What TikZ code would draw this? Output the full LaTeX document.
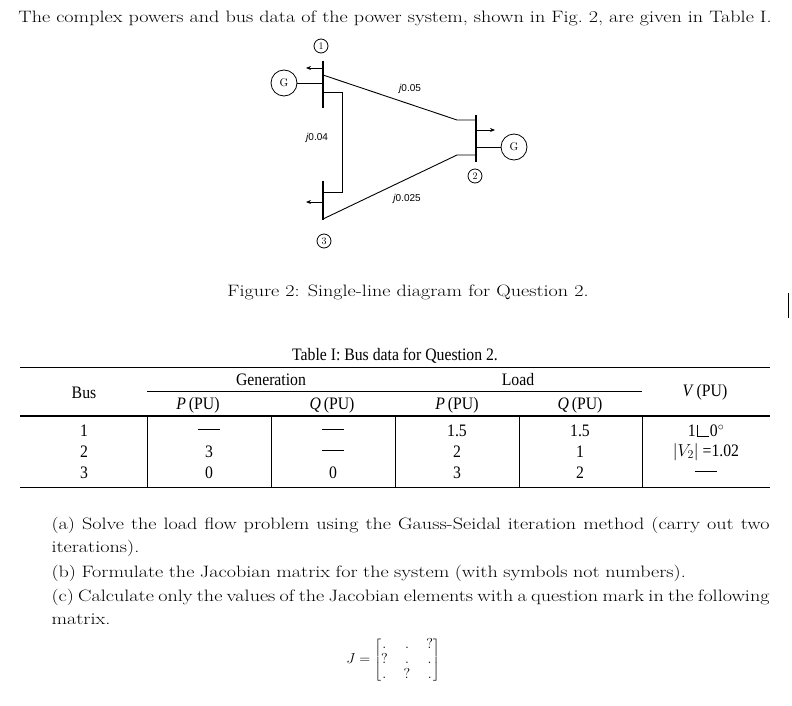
\documentclass[tikz,border=0pt]{standalone}
\usepackage{fontspec}
\setmainfont{Latin Modern Roman}
\newfontfamily\txf[FakeStretch=1.22]{Latin Modern Roman}
\newfontfamily\tabf[FakeStretch=0.9]{Liberation Serif}
\newfontfamily\lblf{Liberation Sans}
\usetikzlibrary{arrows.meta}
\def\myang{\kern1pt\rlap{\rule{0.6pt}{1.5ex}}\rule{0.7em}{0.6pt}\kern1pt}
\def\mydash{\rule[0.3ex]{1.3em}{0.6pt}}
\begin{document}
\begin{tikzpicture}[x=1pt,y=-1pt,
  bus/.style={line width=1.2pt},
  ln/.style={line width=0.9pt},
  arr/.style={line width=0.8pt,-{Stealth[length=5pt,width=4pt]}},
  gen/.style={circle,draw,line width=0.8pt,minimum size=26pt,inner sep=0pt,font=\fontsize{11}{11}\selectfont},
  num/.style={circle,draw,line width=0.8pt,minimum size=14pt,inner sep=0pt,font=\fontsize{10}{10}\selectfont},
  lbl/.style={font=\lblf\fontsize{10}{10}\selectfont},
  tx/.style={font=\txf\fontsize{16.5}{23}\selectfont},
  tb/.style={font=\tabf\fontsize{17.5}{19}\selectfont},
  rule/.style={line width=0.8pt}]
\useasboundingbox (0,0) rectangle (792,706);
\node[tx] (title) at (395,18) {The complex powers and bus data of the power system, shown in Fig.~2, are given in Table~I.};
% buses
\coordinate (b1t) at (323,61); \coordinate (b1b) at (323,108);
\coordinate (b2t) at (476,115); \coordinate (b2b) at (476,162);
\coordinate (b3t) at (323,181); \coordinate (b3b) at (323,220);
\draw[bus] (b1t)--(b1b); \draw[bus] (b2t)--(b2b); \draw[bus] (b3t)--(b3b);
\node[num] (n1) at (321,46) {1};
\node[num] (n2) at (475,176) {2};
\node[num] (n3) at (324,241) {3};
\node[gen] (g1) at (284,83) {G};
\node[gen] (g2) at (514,147) {G};
\coordinate (g1c) at (323,83); \coordinate (g2c) at (476,147);
\draw[ln] (g1)--(g1c); \draw[ln] (g2)--(g2c);
\coordinate (a1s) at (323,68); \coordinate (a1e) at (306,68);
\coordinate (a2s) at (476,130); \coordinate (a2e) at (495,130);
\coordinate (a3s) at (323,202); \coordinate (a3e) at (306,202);
\draw[arr] (a1s)--(a1e); \draw[arr] (a2s)--(a2e); \draw[arr] (a3s)--(a3e);
\coordinate (l12a) at (323,75); \coordinate (l12b) at (457,120); \coordinate (l12c) at (476,120);
\draw[ln] (l12a)--(l12b)--(l12c);
\coordinate (l23a) at (476,155); \coordinate (l23b) at (457,155); \coordinate (l23c) at (323,219);
\draw[ln] (l23a)--(l23b)--(l23c);
\coordinate (l13a) at (323,92); \coordinate (l13b) at (342,92); \coordinate (l13c) at (342,192); \coordinate (l13d) at (323,192);
\draw[ln] (l13a)--(l13b)--(l13c)--(l13d);
\node[lbl] (x12) at (410,89) {\textit{j}0.05};
\node[lbl] (x13) at (317,138) {\textit{j}0.04};
\node[lbl] (x23) at (407,199) {\textit{j}0.025};
\node[tx] (cap) at (408,292) {Figure 2: Single-line diagram for Question 2.};
\coordinate (m1) at (788,293); \coordinate (m2) at (788,318);
\draw[line width=0.8pt] (m1)--(m2);
% table
\node[tb] (tcap) at (395,356) {Table I: Bus data for Question 2.};
\coordinate (r1a) at (20,367); \coordinate (r1b) at (770,367);
\coordinate (r2a) at (147,391); \coordinate (r2b) at (642,391);
\coordinate (r3a) at (20,416); \coordinate (r3b) at (770,416);
\coordinate (r4a) at (20,487); \coordinate (r4b) at (770,487);
\draw[rule] (r1a)--(r1b); \draw[rule] (r2a)--(r2b); \draw[line width=1.4pt] (r3a)--(r3b); \draw[rule] (r4a)--(r4b);
\foreach \x/\n in {147/v1,271/v2,395/v3,519/v4,642/v5}{
  \coordinate (\n t) at (\x,416); \coordinate (\n b) at (\x,487);
  \draw[line width=0.6pt] (\n t)--(\n b);}
\node[tb] (hbus) at (84,393) {Bus};
\node[tb] (hgen) at (271,380) {Generation};
\node[tb] (hload) at (518,380) {Load};
\node[tb] (hv) at (705,392) {\textit{V}\,(PU)};
\node[tb] (hp1) at (198,405) {\textit{P}\,(PU)};
\node[tb] (hq1) at (332,405) {\textit{Q}\,(PU)};
\node[tb] (hp2) at (457,405) {\textit{P}\,(PU)};
\node[tb] (hq2) at (580,405) {\textit{Q}\,(PU)};
\foreach \y/\a/\b/\c/\d/\e/\f/\n in {
  431/1/\mydash/\mydash/1.5/1.5/{1\myang0$^{\circ}$}/ra,
  452/2/3/\mydash/2/1/{$|V_2|$ =1.02}/rb,
  473/3/0/0/3/2/\mydash/rc}{
  \node[tb] (\n1) at (84,\y) {\a};
  \node[tb] (\n2) at (209,\y) {\b};
  \node[tb] (\n3) at (333,\y) {\c};
  \node[tb] (\n4) at (457,\y) {\d};
  \node[tb] (\n5) at (580,\y) {\e};
  \node[tb] (\n6) at (706,\y) {\f};}
% questions
\node[tx,anchor=north west,text width=718pt,align=justify] (qa) at (48,514)
 {\hangindent=32pt\hangafter=1 (a) Solve the load flow problem using the Gauss-Seidal iteration method (carry out two iterations).};
\node[tx,anchor=north west,text width=718pt] (qb) at (48,562) {(b) Formulate the Jacobian matrix for the system (with symbols not numbers).};
\node[tx,anchor=north west,text width=718pt,align=justify] (qc) at (48,586)
 {\hangindent=32pt\hangafter=1 (c) Calculate only the values of the Jacobian elements with a question mark in the following matrix.};
\node[font=\fontsize{15}{15}\selectfont,inner sep=0pt] (jac) at (393,660) {$J=\left[\begin{array}{@{}c@{\hspace{16pt}}c@{\hspace{16pt}}c@{}} . & . & ?\\ ? & . & .\\ . & ? & .\end{array}\right]$};
\end{tikzpicture}
\end{document}
